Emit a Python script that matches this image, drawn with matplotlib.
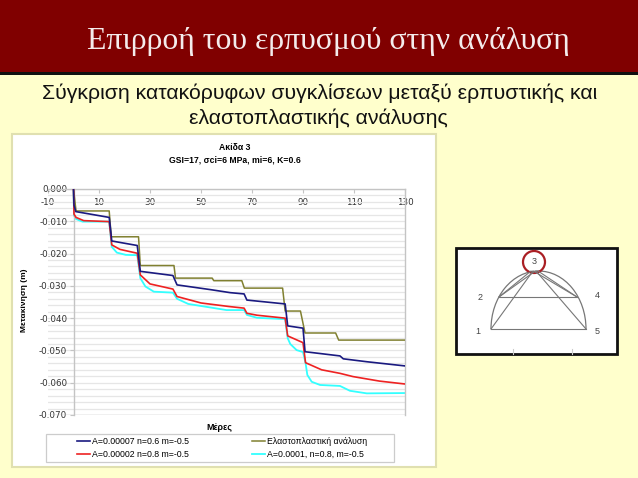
import matplotlib
matplotlib.use('Agg')
from matplotlib import pyplot as plt
from matplotlib.patches import Rectangle, Arc, Circle

W, H = 638, 478

# values
days_blue = [0, 0.2, 0.9, 14, 14.6, 15, 25, 26.2, 39, 40.6, 54, 61.4, 66.9, 68, 83, 84, 90, 90.8, 104.5, 105.8, 115, 130]
blue = [0, -0.0050, -0.0070, -0.0088, -0.0130, -0.0161, -0.0175, -0.0255, -0.0268, -0.0297, -0.0312, -0.0321, -0.0325,
        -0.0344, -0.0356, -0.0424, -0.0431, -0.0504, -0.0517, -0.0526, -0.0535, -0.0548]

days_red = [0, 0.2, 1, 4, 14, 15, 18.2, 25, 26.2, 30, 39, 40.6, 50, 61, 66.9, 68, 72, 83, 84, 90, 91, 97.3, 104.5, 109.6, 120, 130]
red = [0, -0.0078, -0.0088, -0.0098, -0.0101, -0.0173, -0.0187, -0.0199, -0.0266, -0.0294, -0.0310, -0.0333, -0.0353,
       -0.0364, -0.0369, -0.0385, -0.0391, -0.0400, -0.0455, -0.0476, -0.0538, -0.0560, -0.0571, -0.0581, -0.0595, -0.0604]

days_elastic = [0, 1, 14, 14.8, 25.5, 26.2, 39.4, 40, 54.4, 55, 66, 67, 82, 83, 89, 90.8, 102.8, 104, 130]
elastic = [0, -0.0068, -0.0068, -0.0148, -0.0148, -0.0237, -0.0237, -0.0276, -0.0276, -0.0284, -0.0284, -0.0307,
           -0.0307, -0.0378, -0.0378, -0.0446, -0.0446, -0.0468, -0.0468]

days_cyan = [0, 0.2, 1, 3.5, 14, 15, 17, 20.5, 25, 26.2, 28.2, 31.5, 39, 40.6, 45, 60, 66.9, 68, 72, 83, 84, 85, 87.5, 90,
             91, 91.7, 93.4, 96.7, 104.5, 108.4, 115, 130]
cyan = [0, -0.0082, -0.0093, -0.0101, -0.0101, -0.0179, -0.0197, -0.0204, -0.0205, -0.0276, -0.0302, -0.0318, -0.0321,
        -0.0340, -0.0356, -0.0375, -0.0375, -0.0390, -0.0399, -0.0403, -0.0462, -0.0480, -0.0499, -0.0505, -0.0539,
        -0.0576, -0.0597, -0.0607, -0.0610, -0.0625, -0.0633, -0.0632]

x_ticks = [-10, 10, 30, 50, 70, 90, 110, 130]
y_ticks = [0, -0.01, -0.02, -0.03, -0.04, -0.05, -0.06, -0.07]
y_minor = [-0.002, -0.004, -0.006, -0.008, -0.012, -0.014, -0.016, -0.018, -0.022, -0.024, -0.026, -0.028,
           -0.032, -0.034, -0.036, -0.038, -0.042, -0.044, -0.046, -0.048, -0.052, -0.054, -0.056, -0.058,
           -0.062, -0.064, -0.066, -0.068]

GREY = '#c4c4c4'
GRID = '#e6e6e6'

fig = plt.figure(figsize=(W / 100, H / 100), dpi=100, facecolor='#ffffcc')

# page layer in pixel coordinates
page = fig.add_axes([0, 0, 1, 1], zorder=0)
page.set_xlim(0, W)
page.set_ylim(H, 0)
page.axis('off')
page.add_patch(Rectangle((0, 0), W, 72, fc='#800000', ec='none'))
page.add_patch(Rectangle((0, 72), W, 3, fc='#111111', ec='none'))
page.add_patch(Rectangle((12, 134), 424, 333, fc='white', ec='#e0e0b0', lw=1.5))
page.text(328, 41, 'Επιρροή του ερπυσμού στην ανάλυση', family='Liberation Serif', fontsize=22.9,
          color='#f4ecec', ha='center', va='center')
page.text(320, 93, 'Σύγκριση κατακόρυφων συγκλίσεων μεταξύ ερπυστικής και', family='Liberation Sans',
          fontsize=15.3, color='#111111', ha='center', va='center')
page.text(318, 118, 'ελαστοπλαστικής ανάλυσης', family='Liberation Sans', fontsize=15.3,
          color='#111111', ha='center', va='center')
page.text(235, 148, 'Ακίδα 3', family='Liberation Sans', fontsize=6.2, weight='bold', ha='center', va='center')
page.text(235, 160, 'GSI=17, σci=6 MPa, mi=6, K=0.6', family='Liberation Sans', fontsize=6.2, weight='bold',
          ha='center', va='center')
page.text(219, 427, 'Μέρες', family='Liberation Sans', fontsize=6.4, weight='bold', ha='center', va='center')
page.text(24, 300, 'Μετακίνηση (m)', family='Liberation Sans', fontsize=6, weight='bold', rotation=90,
          ha='center', va='center')

# tunnel sketch
page.add_patch(Rectangle((456, 248), 161, 106, fc='white', ec='#111111', lw=2))
sketch = '#777777'
page.add_patch(Arc((538.5, 329), 95, 116, theta1=180, theta2=360, color=sketch, lw=0.9))
for a, b in [((491, 329), (586, 329)), ((499, 297), (577, 297)), ((491, 329), (533, 271)), ((586, 329), (536, 271)),
             ((499, 297), (531, 271)), ((577, 297), (538, 271)), ((499, 297), (534, 272)), ((577, 297), (535, 272))]:
    page.plot([a[0], b[0]], [a[1], b[1]], color=sketch, lw=0.8)
for tx in [513, 572]:
    page.plot([tx, tx], [349, 354], color='#cccccc', lw=0.8)
page.add_patch(Circle((534, 262), 11, fc='none', ec='#aa1f24', lw=1.6))
for s, tx, ty in [('1', 478, 332), ('2', 480, 297), ('3', 534, 262), ('4', 597, 296), ('5', 597, 332)]:
    page.text(tx, ty, s, family='Liberation Sans', fontsize=6.5, color='#444444', ha='center', va='center')

# legend frame, its entries are placed inside
page.add_patch(Rectangle((46, 434), 348, 28, fc='white', ec='#cccccc', lw=0.9))

# chart, x=-10 at px 48, x=130 at px 405, y=0 at px 189, y=-0.07 at px 415
ax = fig.add_axes([48 / W, 1 - 415 / H, 357 / W, 226 / H], zorder=1)
ax.patch.set_alpha(0)
ax.set_xlim(-10, 130)
ax.set_ylim(-0.07, 0)
ax.set_xticks(x_ticks)
ax.set_yticks(y_ticks)
ax.set_xticklabels([str(v) for v in x_ticks])
ax.set_yticklabels(['%.3f' % v if v == 0 else '-%.3f' % abs(v) for v in y_ticks])
ax.set_yticks(y_minor, minor=True)
ax.tick_params(axis='both', which='major', labelsize=6.3, color=GREY, labelcolor='#333333', length=3, width=0.8)
ax.tick_params(axis='y', which='major', pad=1.5)
ax.tick_params(axis='y', which='minor', length=0)
for lab in ax.get_xticklabels() + ax.get_yticklabels():
    lab.set_family('Liberation Sans')
ax.grid(axis='y', which='both', color=GRID, lw=0.9)
ax.set_axisbelow(True)
ax.spines['left'].set_position(('data', 0))
ax.spines['bottom'].set_position(('data', 0))
ax.spines['top'].set_visible(False)
for name in ['left', 'bottom', 'right']:
    ax.spines[name].set_color(GREY)
    ax.spines[name].set_linewidth(1)
ax.axhline(-0.07, color=GREY, lw=1, zorder=1.5)

ax.plot(days_cyan, cyan, color='#33ffff', lw=1.3, zorder=2, label='A=0.0001, n=0.8, m=-0.5')
ax.plot(days_elastic, elastic, color='#808030', lw=1.1, zorder=3, label='Ελαστοπλαστική ανάλυση')
ax.plot(days_red, red, color='#ee2222', lw=1.2, zorder=4, label='A=0.00002 n=0.8 m=-0.5')
ax.plot(days_blue, blue, color='#1a1a80', lw=1.2, zorder=5, label='A=0.00007 n=0.6 m=-0.5')

handles, labels = ax.get_legend_handles_labels()
order = [3, 2, 1, 0]
leg = fig.legend([handles[i] for i in order], [labels[i] for i in order], ncol=2, loc='lower left',
                 bbox_to_anchor=(74 / W, 1 - 462 / H, 296 / W, 28 / H), mode='expand', frameon=False,
                 borderpad=0.35, labelspacing=0.45, handlelength=1.47, handletextpad=0.23, borderaxespad=0,
                 columnspacing=2, prop={'family': 'Liberation Sans', 'size': 6.35})
leg.set_zorder(3)

fig.savefig('out.png', dpi=100, facecolor=fig.get_facecolor())
